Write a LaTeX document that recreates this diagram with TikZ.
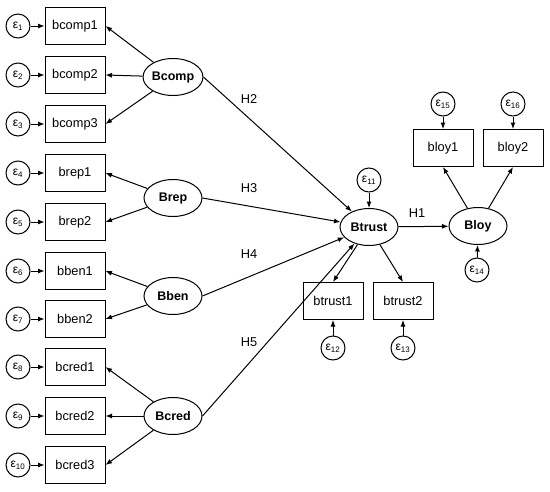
\documentclass[tikz,border=0pt]{standalone}
\usepackage{fontspec}
\setmainfont{Liberation Sans}
\usepackage{tikz}
\usetikzlibrary{arrows.meta, shapes.geometric}

\newcommand{\errlbl}[1]{ε\textsubscript{#1}}

\begin{document}
\begin{tikzpicture}[x=1pt, y=-1pt,
  font=\fontsize{12.8}{15}\selectfont,
  obs/.style={draw, line width=1pt, minimum width=60pt, minimum height=37pt, inner sep=0pt},
  lat/.style={draw, ellipse, line width=1pt, minimum width=58pt, minimum height=37pt, inner sep=0pt, font=\fontsize{12.5}{15}\selectfont\bfseries},
  err/.style={draw, circle, line width=1pt, minimum size=24pt, inner sep=0pt, font=\fontsize{12}{13}\selectfont},
  arr/.style={line width=1pt, -{Latex[length=6.5pt,width=5pt]}}
]
\useasboundingbox (0,0) rectangle (550,491);

% Left indicators with their errors
\foreach \n/\y/\k in {bcomp1/26/1, bcomp2/75/2, bcomp3/124/3, brep1/173/4, brep2/222/5,
                      bben1/271/6, bben2/319/7, bcred1/367/8, bcred2/416/9, bcred3/465/10} {
  \node[obs] (\n) at (75,\y) {\n};
  \node[err] (e\k) at (18,\y) {\errlbl{\k}};
  \draw[arr] (e\k) -- (\n);
}

% Exogenous latents
\node[lat] (Bcomp) at (173,77) {Bcomp};
\node[lat] (Brep) at (173,198) {Brep};
\node[lat] (Bben) at (173,296) {Bben};
\node[lat] (Bcred) at (173,416) {Bcred};

\foreach \l/\n in {Bcomp/bcomp1, Bcomp/bcomp2, Bcomp/bcomp3, Brep/brep1, Brep/brep2,
                   Bben/bben1, Bben/bben2, Bcred/bcred1, Bcred/bcred2, Bcred/bcred3}
  \draw[arr] (\l) -- (\n.east);

% Trust and loyalty
\node[lat] (Btrust) at (369,227) {Btrust};
\node[lat] (Bloy) at (478,226) {Bloy};
\node[err] (e11) at (369,180) {\errlbl{11}};
\node[err] (e14) at (477,270) {\errlbl{14}};

\node[obs] (btrust1) at (333,301) {btrust1};
\node[obs] (btrust2) at (403,301) {btrust2};
\node[err] (e12) at (333,348) {\errlbl{12}};
\node[err] (e13) at (403,348) {\errlbl{13}};

\node[obs] (bloy1) at (443,148) {bloy1};
\node[obs] (bloy2) at (513,148) {bloy2};
\node[err] (e15) at (443,104) {\errlbl{15}};
\node[err] (e16) at (513,104) {\errlbl{16}};

% Structural paths
\draw[arr] (Bcomp.east) -- (Btrust);
\draw[arr] (Brep.east) -- (Btrust);
\draw[arr] (Bben.east) -- (Btrust);
\draw[arr] (Bcred.east) -- (Btrust);
\draw[arr] (Btrust) -- (Bloy);

\node (h2) at (249,99) {H2};
\node (h3) at (249,188) {H3};
\node (h4) at (249,254) {H4};
\node (h5) at (249,342) {H5};
\node (h1) at (417,213) {H1};

% Measurement on the right
\draw[arr] (Btrust) -- (btrust1.north);
\draw[arr] (Btrust) -- (btrust2.north);
\draw[arr] (Bloy) -- (bloy1.south);
\draw[arr] (Bloy) -- (bloy2.south);
\draw[arr] (e11) -- (Btrust);
\draw[arr] (e14) -- (Bloy);
\draw[arr] (e12) -- (btrust1);
\draw[arr] (e13) -- (btrust2);
\draw[arr] (e15) -- (bloy1);
\draw[arr] (e16) -- (bloy2);

\end{tikzpicture}
\end{document}
